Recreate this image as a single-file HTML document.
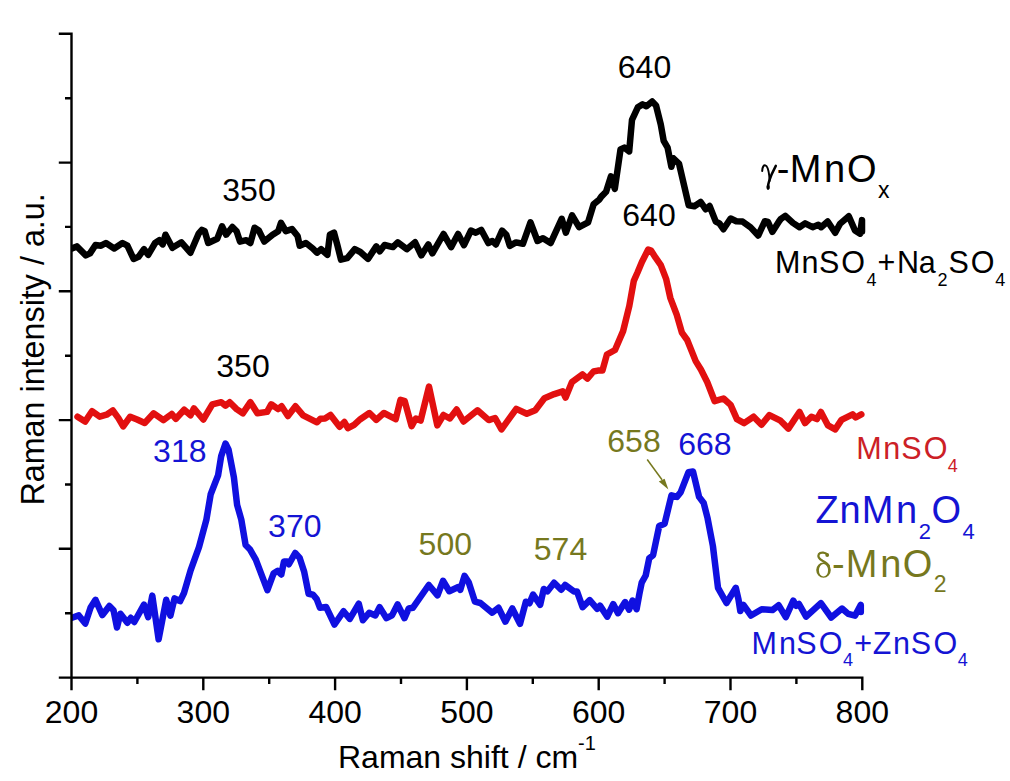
<!DOCTYPE html>
<html><head><meta charset="utf-8"><style>
html,body{margin:0;padding:0;background:#fff;}
svg{display:block;}
text{font-family:"Liberation Sans",sans-serif;}
.tk{font-size:32px;fill:#000;}
.gr{font-family:"Liberation Serif",serif;}
.ls{letter-spacing:1.5px;}
</style></head><body>
<svg width="1010" height="781" viewBox="0 0 1010 781">
<rect width="1010" height="781" fill="#fff"/>

<defs><clipPath id="clp"><rect x="71.5" y="0" width="940" height="781"/></clipPath></defs>
<g clip-path="url(#clp)" fill="none" stroke-width="6.5" stroke-linejoin="round" stroke-linecap="round">
<polyline stroke="#000" points="71.9,248.5 76.8,246.4 85.8,255.4 90.0,253.4 95.5,245.0 101.0,245.7 105.9,243.0 114.2,248.5 122.5,243.0 127.4,245.7 133.6,258.9 138.5,256.8 144.0,249.2 148.2,254.8 155.1,243.0 159.3,240.2 162.7,244.4 165.5,234.7 172.4,247.8 181.4,242.3 190.4,252.7 198.8,233.3 201.9,229.8 204.7,231.2 208.2,243.0 217.2,238.8 222.0,226.3 226.2,234.7 232.4,227.0 236.6,231.2 240.0,241.6 246.3,240.2 250.4,243.0 254.6,227.7 258.8,230.5 264.3,241.6 272.6,234.7 278.2,231.2 281.0,222.9 285.8,231.2 292.0,229.1 297.6,236.0 299.7,245.7 305.9,243.0 312.8,248.5 317.0,252.7 321.1,249.2 327.4,254.8 329.9,234.7 334.0,232.6 337.5,245.7 341.0,259.6 347.2,258.2 354.8,249.2 360.3,252.0 368.0,258.9 376.3,246.4 379.8,251.3 384.6,245.0 392.9,247.1 397.8,242.3 406.8,249.2 415.1,242.3 421.3,255.4 428.3,244.4 432.4,253.4 443.5,234.0 451.1,247.1 458.1,234.0 464.0,245.2 470.9,230.6 475.8,232.7 481.3,229.9 488.3,243.1 492.4,241.0 495.9,244.5 502.1,230.6 506.3,234.8 509.8,245.8 516.0,242.4 522.9,243.8 530.5,222.3 537.5,241.0 543.0,238.2 550.6,243.1 561.7,218.8 565.9,232.7 572.1,215.3 579.1,227.1 588.1,222.3 593.6,204.2 599.4,199.4 601.3,196.6 606.1,191.8 610.9,176.4 614.8,188.9 620.5,149.5 624.4,147.6 629.2,151.4 632.0,119.8 637.8,107.3 642.6,104.4 646.4,106.3 652.2,101.5 656.0,105.4 660.8,124.6 663.7,140.9 667.6,147.6 671.4,166.8 673.3,158.2 679.1,163.9 688.7,205.2 694.4,206.2 700.7,202.0 705.6,209.2 709.6,206.0 715.8,221.6 719.4,223.4 723.4,229.2 730.6,218.5 736.3,221.2 742.6,221.6 750.6,227.4 758.2,235.5 764.9,221.2 768.0,222.0 772.4,231.9 779.1,221.2 780.6,219.2 785.3,215.9 792.9,222.9 799.5,227.2 805.1,223.4 812.6,227.2 818.3,224.8 821.1,227.2 827.7,221.5 835.2,232.8 839.9,223.9 848.8,216.3 855.0,230.5 860.1,233.7 862.0,220.1 862.0,231.4"/>
<polyline stroke="#e21010" points="77.5,416.7 85.1,421.6 92.0,411.2 99.7,416.7 106.6,414.7 112.8,410.5 118.4,418.1 123.2,426.4 130.2,416.7 137.1,419.5 144.7,423.0 153.7,413.3 163.4,420.2 171.7,414.0 175.9,418.8 184.2,409.8 190.5,415.3 193.9,408.4 203.3,419.5 212.3,404.3 221.3,402.2 225.5,405.6 229.7,402.2 236.6,409.1 242.8,413.3 250.4,402.2 257.4,413.3 267.1,411.9 271.2,404.3 278.2,409.1 281.6,406.3 287.9,416.0 295.5,406.3 303.1,415.3 317.0,422.3 320.4,418.8 325.0,418.5 330.5,415.0 339.6,426.8 344.4,422.0 347.9,428.2 354.1,424.8 360.3,419.2 369.4,413.0 376.3,419.9 383.9,413.0 395.7,419.2 400.5,399.8 404.7,401.2 411.6,426.1 415.8,418.5 420.6,420.6 429.0,386.6 437.3,425.4 443.5,415.0 449.8,418.5 456.7,409.5 463.5,421.5 477.5,410.3 488.8,420.1 495.1,418.0 501.5,429.3 516.3,408.9 526.8,413.8 535.3,410.3 544.4,398.3 554.3,394.1 562.7,391.3 565.6,397.6 571.9,382.1 582.5,374.4 587.4,378.6 593.5,371.5 597.9,370.6 602.4,370.6 606.9,354.5 615.0,350.0 623.1,331.1 629.3,306.0 633.8,280.9 637.4,272.8 641.9,262.0 648.2,249.5 651.0,250.5 655.6,257.7 660.8,265.1 666.1,278.8 670.3,297.8 676.7,314.7 681.9,332.6 687.2,340.0 695.7,361.1 700.9,369.5 707.3,382.2 714.7,401.2 723.5,398.5 730.6,404.9 736.9,419.1 744.1,423.1 753.6,416.7 761.5,424.7 769.4,415.1 780.5,420.7 788.4,428.6 799.5,412.0 805.0,423.1 811.4,416.7 816.9,419.1 820.9,412.0 828.0,425.4 835.2,429.4 841.5,419.9 852.6,414.4 855.7,417.5 861.3,414.4"/>
<polyline stroke="#1010e0" points="70.5,618.3 78.8,615.4 85.3,623.6 90.6,607.4 95.5,599.8 102.4,615.1 109.4,606.0 113.5,610.2 117.0,627.5 120.4,613.7 127.4,622.7 130.8,617.8 134.3,622.0 144.0,604.7 148.2,617.1 152.3,595.6 158.6,639.3 166.2,599.8 170.4,615.7 174.5,598.4 180.1,601.2 184.0,593.0 190.6,570.3 199.0,547.1 206.4,519.6 210.7,494.2 218.1,475.2 221.2,456.1 225.5,443.5 228.6,449.8 233.9,477.3 237.1,504.8 241.3,519.6 245.6,545.0 249.8,549.2 255.8,559.7 267.4,590.2 273.7,573.2 277.7,570.9 281.3,574.5 284.0,561.5 287.1,561.5 288.9,564.2 295.2,553.0 299.7,557.9 304.1,571.4 308.6,593.8 313.1,594.7 316.7,599.1 320.0,607.8 326.2,607.1 334.5,624.5 343.5,611.3 349.8,618.9 358.8,603.7 362.9,620.3 369.2,612.7 375.4,615.4 379.6,607.1 386.5,618.2 392.0,615.4 397.6,604.4 404.5,618.2 408.7,608.5 412.8,607.8 428.8,585.0 437.5,595.3 443.0,580.8 449.3,591.2 458.3,587.0 460.3,589.8 464.5,575.9 468.7,582.2 474.9,601.6 480.4,603.0 492.2,612.7 498.5,607.8 505.4,621.7 512.3,608.5 520.0,623.8 525.9,601.7 529.5,603.3 533.1,594.6 540.2,604.9 543.8,589.0 547.3,591.4 554.1,582.7 561.2,589.8 565.1,585.0 573.9,591.4 577.0,591.4 582.6,607.2 589.7,600.1 597.2,608.8 600.0,605.6 607.3,616.7 613.2,604.1 618.0,613.2 625.1,602.1 629.1,609.6 632.6,600.5 636.6,609.2 639.4,593.8 641.7,582.7 645.7,575.5 649.2,558.3 653.1,555.2 659.2,526.0 664.6,523.7 671.5,495.3 676.9,496.9 680.7,492.2 688.4,472.3 693.0,471.5 699.1,496.9 703.7,503.0 707.6,518.3 712.9,546.0 718.0,587.8 726.5,603.0 735.8,587.8 738.5,599.4 740.3,611.0 743.4,604.8 751.0,615.5 761.7,609.2 772.4,610.1 778.6,605.2 785.8,617.2 793.3,600.7 796.3,605.8 799.0,604.0 806.1,616.6 820.9,603.2 831.2,617.5 842.0,608.5 848.2,613.9 855.0,615.7 860.8,604.9 860.8,612.1"/>
</g>
<g fill="none" stroke="#000" stroke-width="2.4" stroke-linecap="butt">
<path d="M58.8,33.8H71.5V690.3M58.8,677.6H862.3V690.3M58.8,33.8H71.5M65.0,98.2H71.5M58.8,162.6H71.5M65.0,226.9H71.5M58.8,291.3H71.5M65.0,355.7H71.5M58.8,420.1H71.5M65.0,484.5H71.5M58.8,548.8H71.5M65.0,613.2H71.5M71.5,677.6V690.3M137.4,677.6V684.1M203.3,677.6V690.3M269.2,677.6V684.1M335.1,677.6V690.3M401.0,677.6V684.1M466.9,677.6V690.3M532.8,677.6V684.1M598.7,677.6V690.3M664.6,677.6V684.1M730.5,677.6V690.3M796.4,677.6V684.1M862.3,677.6V690.3"/>
</g>
<text x="71.5" y="722.5" text-anchor="middle" class="tk">200</text><text x="203.3" y="722.5" text-anchor="middle" class="tk">300</text><text x="335.1" y="722.5" text-anchor="middle" class="tk">400</text><text x="466.9" y="722.5" text-anchor="middle" class="tk">500</text><text x="598.7" y="722.5" text-anchor="middle" class="tk">600</text><text x="730.5" y="722.5" text-anchor="middle" class="tk">700</text><text x="862.3" y="722.5" text-anchor="middle" class="tk">800</text>
<text x="338" y="767.6" font-size="32">Raman shift / cm<tspan font-size="20" dy="-17.4" dx="0">-1</tspan></text>
<text transform="translate(43.5,505.6) rotate(-90)" font-size="32.3">Raman intensity / a.u.</text>
<g font-size="32" text-anchor="middle">
<text x="249" y="201.2">350</text>
<text x="243" y="377.3">350</text>
<text x="644.5" y="78.2">640</text>
<text x="649" y="226.4">640</text>
<text x="179.8" y="461.6" fill="#1414d4">318</text>
<text x="294.8" y="536.8" fill="#1414d4">370</text>
<text x="445.3" y="554.9" fill="#76781e">500</text>
<text x="560.5" y="559.7" fill="#76781e">574</text>
<text x="634" y="452" fill="#76781e">658</text>
<text x="704.9" y="454.6" fill="#1414d4">668</text>
</g>
<g stroke="#76781e" stroke-width="1.5" fill="#76781e">
<line x1="647.2" y1="459.5" x2="662" y2="479.8"/>
<path d="M668.4,489.4 L658.8,481.6 L664.6,478.8 Z" stroke="none"/>
</g>
<text><tspan x="776.72" y="181.90" font-size="38">-</tspan><tspan x="789.87" y="181.90" font-size="38">M</tspan><tspan x="824.06" y="181.90" font-size="38">n</tspan><tspan x="847.03" y="181.90" font-size="38">O</tspan><tspan x="877.94" y="197.50" font-size="23">x</tspan></text>
<text><tspan x="775.00" y="272.60" font-size="30.5">M</tspan><tspan x="801.50" y="272.60" font-size="30.5">n</tspan><tspan x="819.04" y="272.60" font-size="30.5">S</tspan><tspan x="841.15" y="272.60" font-size="30.5">O</tspan><tspan x="866.40" y="285.50" font-size="18">4</tspan><tspan x="877.55" y="272.60" font-size="30.5">+</tspan><tspan x="897.08" y="272.60" font-size="30.5">N</tspan><tspan x="918.87" y="272.60" font-size="30.5">a</tspan><tspan x="937.44" y="285.50" font-size="18">2</tspan><tspan x="948.44" y="272.60" font-size="30.5">S</tspan><tspan x="970.85" y="272.60" font-size="30.5">O</tspan><tspan x="995.15" y="285.50" font-size="18">4</tspan></text>
<text fill="#cc2026"><tspan x="856.20" y="459.10" font-size="30.5">M</tspan><tspan x="883.35" y="459.10" font-size="30.5">n</tspan><tspan x="901.34" y="459.10" font-size="30.5">S</tspan><tspan x="923.65" y="459.10" font-size="30.5">O</tspan><tspan x="947.70" y="472.20" font-size="18">4</tspan></text>
<text fill="#1414d4"><tspan x="815.38" y="523.30" font-size="38">Z</tspan><tspan x="839.41" y="523.30" font-size="38">n</tspan><tspan x="861.77" y="523.30" font-size="38">M</tspan><tspan x="896.01" y="523.30" font-size="38">n</tspan><tspan x="918.73" y="539.40" font-size="22">2</tspan><tspan x="931.43" y="523.30" font-size="38">O</tspan><tspan x="962.45" y="539.40" font-size="22">4</tspan></text>
<text fill="#76781e"><tspan x="831.92" y="576.80" font-size="38">-</tspan><tspan x="845.82" y="576.80" font-size="38">M</tspan><tspan x="880.36" y="576.80" font-size="38">n</tspan><tspan x="902.73" y="576.80" font-size="38">O</tspan><tspan x="933.65" y="592.30" font-size="23">2</tspan></text>
<text fill="#1414d4"><tspan x="751.60" y="653.80" font-size="30.5">M</tspan><tspan x="778.95" y="653.80" font-size="30.5">n</tspan><tspan x="796.34" y="653.80" font-size="30.5">S</tspan><tspan x="818.65" y="653.80" font-size="30.5">O</tspan><tspan x="843.10" y="666.10" font-size="18">4</tspan><tspan x="854.30" y="653.80" font-size="30.5">+</tspan><tspan x="872.83" y="653.80" font-size="30.5">Z</tspan><tspan x="893.00" y="653.80" font-size="30.5">n</tspan><tspan x="910.64" y="653.80" font-size="30.5">S</tspan><tspan x="933.40" y="653.80" font-size="30.5">O</tspan><tspan x="957.65" y="666.10" font-size="18">4</tspan></text>
<g fill="none" stroke-linecap="round">
<path d="M762.2,171 C762.3,166.5 764,165 765.3,165.4 C767.3,166 768.6,170 769.3,176 L769.6,181" stroke="#000" stroke-width="2.0"/>
<path d="M775.8,165.8 C773,171 770.5,176.5 769,181.5 C768,185 767.8,187.5 768,188.5" stroke="#000" stroke-width="2.5"/>
<ellipse cx="768.2" cy="187" rx="1.6" ry="2.6" fill="#000"/>
<path fill-rule="evenodd" fill="#76781e" stroke="none" d="M816.2,570.1 A7.3,7.6 0 1 0 830.8,570.1 A7.3,7.6 0 1 0 816.2,570.1 Z M818.9,570.3 A4.6,6.2 0 1 0 828.1,570.3 A4.6,6.2 0 1 0 818.9,570.3 Z"/>
<path d="M827.5,555 C826,552.2 820.5,551.6 818.8,554.2 C817.6,556.5 819.5,559 822.5,560.8 C825.5,562.5 828,564 829,566" stroke="#76781e" stroke-width="2.2"/>
<circle cx="827.2" cy="555" r="1.9" fill="#76781e"/>
</g>
</svg>
</body></html>
